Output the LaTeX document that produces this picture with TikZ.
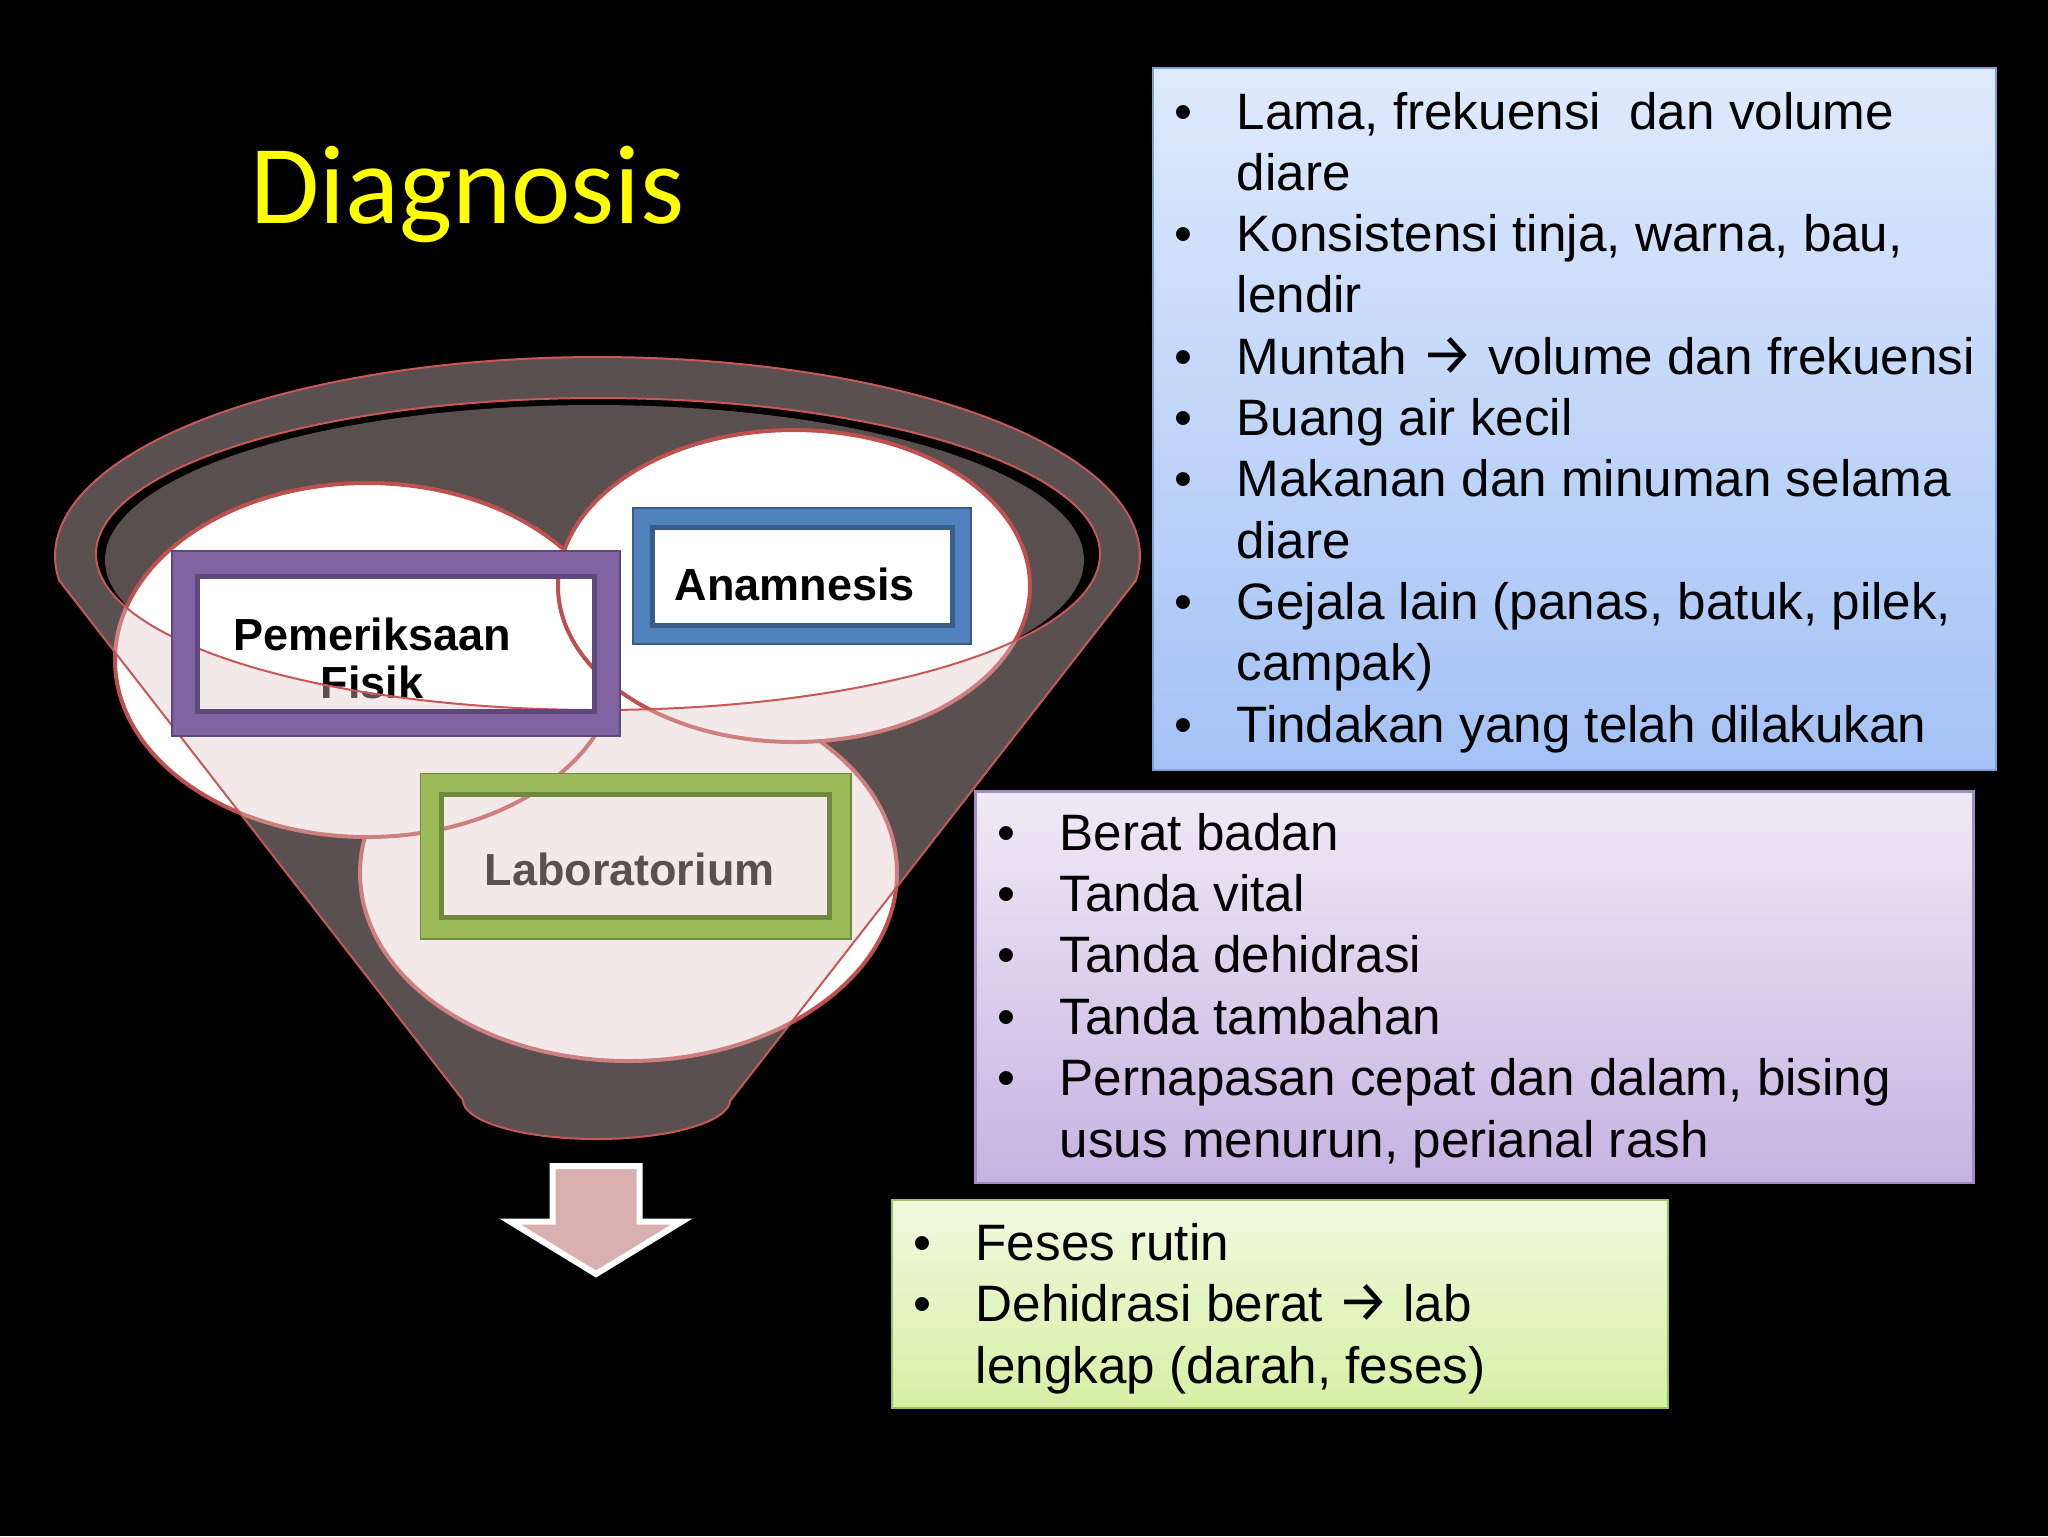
\documentclass[tikz,border=0pt]{standalone}
\usepackage{fontspec}
\setmainfont{Liberation Sans}
\newfontfamily\titlefont{Carlito}
\newfontfamily\arrowfont{Fira Sans}
\usetikzlibrary{shapes.geometric}

\definecolor{fred}{RGB}{200,88,88}
\definecolor{cred}{RGB}{192,80,77}
\definecolor{glass}{RGB}{225,202,202}
\definecolor{rimgray}{RGB}{89,79,79}
\definecolor{purp}{RGB}{128,100,162}
\definecolor{purpd}{RGB}{94,73,122}
\definecolor{blu}{RGB}{79,129,189}
\definecolor{blud}{RGB}{56,93,138}
\definecolor{grn}{RGB}{155,187,89}
\definecolor{grnd}{RGB}{113,137,63}
\definecolor{arrowpink}{RGB}{218,175,175}
\definecolor{ttyellow}{RGB}{255,255,0}
\definecolor{bluetop}{RGB}{223,234,252}
\definecolor{bluebot}{RGB}{164,194,246}
\definecolor{blueedge}{RGB}{125,160,215}
\definecolor{purtop}{RGB}{240,234,246}
\definecolor{purbot}{RGB}{198,179,226}
\definecolor{puredge}{RGB}{160,140,190}
\definecolor{grntop}{RGB}{240,249,222}
\definecolor{grnbot}{RGB}{214,240,165}
\definecolor{grnedge}{RGB}{160,190,90}

\newcommand\bitem{\makebox[6.2mm][l]{•}}
\newcommand\bcont{\hspace*{6.2mm}}
\newcommand\rarr{{\arrowfont\fontsize{16.5}{17}\selectfont →}}

\begin{document}
\begin{tikzpicture}[x=0.1mm,y=-0.1mm,
  circ/.style={ellipse, draw=cred, line width=0.4mm, fill=white, inner sep=0pt},
  clabel/.style={font=\fontsize{12.8}{15}\selectfont\bfseries, inner sep=0pt, anchor=base},
  tline/.style={font=\fontsize{14.57}{17}\selectfont, inner sep=0pt, anchor=base west},
  tbox/.style={rectangle, inner sep=0pt, line width=0.25mm},
  ]
% background
\fill[black] (0,0) rectangle (2048,1536);
\useasboundingbox (0,0) rectangle (2048,1536);

% title
\node[anchor=base west, inner sep=0pt, text=ttyellow, font=\titlefont\fontsize{32}{36}\selectfont] (title) at (250,223) {Diagnosis};

% funnel back: inner opening
\fill[black] (598,554) ellipse [x radius=50.2mm, y radius=15.6mm];
\begin{scope}
  \clip (598,554) ellipse [x radius=50.2mm, y radius=15.6mm];
  \fill[rimgray] (594.5,560) ellipse [x radius=48.95mm, y radius=15.5mm];
\end{scope}

% circles
\node[circ, minimum width=53.7mm, minimum height=37.6mm] (cLab) at (628.5,873) {};
\node[circ, minimum width=50.4mm, minimum height=35.4mm] (cPem) at (367,660) {};
\node[circ, minimum width=47.2mm, minimum height=31.2mm] (cAna) at (794,586) {};

% circle labels
\node[clabel] (tPem1) at (372,650) {Pemeriksaan};
\node[clabel] (tPem2) at (372,698) {Fisik};
\node[clabel] (tAna) at (795,600) {Anamnesis};
\node[clabel] (tLab) at (629.5,885) {Laboratorium};

% funnel front glass
\path[fill=glass, fill opacity=0.4, draw=fred, line width=0.2mm, even odd rule]
  plot[domain=173:367, samples=100] ({597.5+542.5*cos(\x)},{556+199*sin(\x)})
  -- (730,1101)
  -- plot[domain=0:180, samples=50] ({596.5+133.5*cos(\x)},{1100+39*sin(\x)})
  -- cycle
  (598,554) ellipse [x radius=50.2mm, y radius=15.6mm];

% frames
\fill[purp, even odd rule] (172,551) rectangle (620,736) (197.5,576.5) rectangle (594.5,711);
\draw[purpd, line width=0.15mm] (172,551) rectangle (620,736);
\draw[purpd, line width=0.5mm] (197.5,576.5) rectangle (594.5,711);

\fill[blu, even odd rule] (633,508) rectangle (971,644) (652.5,527.5) rectangle (952,625.5);
\draw[blud, line width=0.15mm] (633,508) rectangle (971,644);
\draw[blud, line width=0.5mm] (652.5,527.5) rectangle (952,625.5);

\fill[grn, even odd rule] (420.5,773.6) rectangle (851,939) (441,794) rectangle (829.5,917.5);
\draw[grnd, line width=0.15mm] (420.5,773.6) rectangle (851,939);
\draw[grnd, line width=0.5mm] (441,794) rectangle (829.5,917.5);

% down arrow
\path[fill=arrowpink, draw=white, line width=0.6mm, line join=miter]
  (552.5,1166) -- (639.5,1166) -- (639.5,1221.5) -- (682,1221.5) -- (596,1274)
  -- (510,1221.5) -- (552.5,1221.5) -- cycle;

% text boxes
\node[tbox, draw=blueedge, top color=bluetop, bottom color=bluebot,
      minimum width=84.3mm, minimum height=70.2mm] (boxA) at (1574.5,419) {};
\node[tbox, draw=puredge, top color=purtop, bottom color=purbot,
      minimum width=99.8mm, minimum height=39.15mm] (boxP) at (1474.5,987.25) {};
\node[tbox, draw=grnedge, top color=grntop, bottom color=grnbot,
      minimum width=77.6mm, minimum height=20.8mm] (boxL) at (1280,1304) {};

\foreach \t [count=\i from 0] in {
  {\bitem Lama, frekuensi\ \ dan volume},
  {\bcont diare},
  {\bitem Konsistensi tinja, warna, bau,},
  {\bcont lendir},
  {\bitem Muntah \rarr{} volume dan frekuensi},
  {\bitem Buang air kecil},
  {\bitem Makanan dan minuman selama},
  {\bcont diare},
  {\bitem Gejala lain (panas, batuk, pilek,},
  {\bcont campak)},
  {\bitem Tindakan yang telah dilakukan}}
  { \node[tline] (a\i) at (1174,{129+61.3*\i}) {\t}; }

\foreach \t [count=\i from 0] in {
  {\bitem Berat badan},
  {\bitem Tanda vital},
  {\bitem Tanda dehidrasi},
  {\bitem Tanda tambahan},
  {\bitem Pernapasan cepat dan dalam, bising},
  {\bcont usus menurun, perianal rash}}
  { \node[tline] (p\i) at (997,{850+61.4*\i}) {\t}; }

\foreach \t [count=\i from 0] in {
  {\bitem Feses rutin},
  {\bitem Dehidrasi berat \rarr{} lab},
  {\bcont lengkap (darah, feses)}}
  { \node[tline] (l\i) at (913,{1260+61.5*\i}) {\t}; }
\end{tikzpicture}
\end{document}
